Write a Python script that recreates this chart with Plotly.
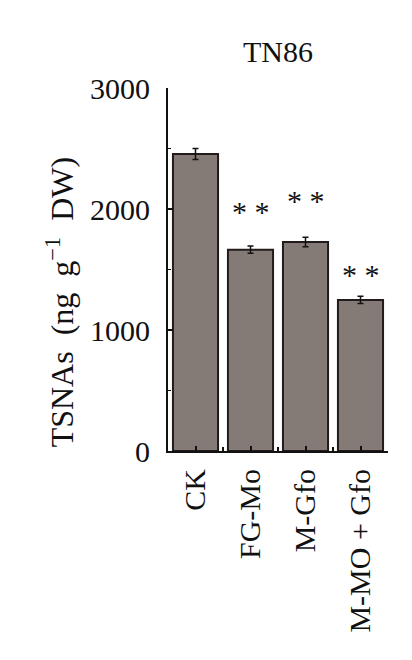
import plotly.graph_objects as go

categories = ["CK", "FG-Mo", "M-Gfo", "M-MO + Gfo"]
values = [2455, 1664, 1727, 1248]
errors = [45, 30, 40, 30]
sig_labels = ["", "* *", "* *", "* *"]
sig_y = [0, 1983, 2074, 1455]
y_ticks = [0, 1000, 2000, 3000]

FONT = "Liberation Serif, Times New Roman, serif"
xpos = list(range(len(categories)))

fig = go.Figure()
fig.add_trace(go.Bar(
    x=xpos, y=values,
    marker=dict(color="#857b76", line=dict(color="#231b1b", width=2)),
    error_y=dict(type="data", array=errors, color="#111111", thickness=1.5, width=3),
    width=0.82,
))

for xi, lab, yv in zip(xpos, sig_labels, sig_y):
    if lab:
        fig.add_annotation(x=xi, y=yv, text=lab, showarrow=False,
                           font=dict(family=FONT, size=30, color="#111111"),
                           xanchor="center", yanchor="middle")

fig.add_annotation(xref="paper", yref="paper", x=0.5, y=1, yshift=37,
                   text="TN86", showarrow=False,
                   font=dict(family=FONT, size=30, color="#111111"),
                   xanchor="center", yanchor="middle")

fig.add_annotation(xref="paper", yref="paper", x=-0.49, y=0.41,
                   text="TSNAs\u2002(ng\u2002g<sup>−1</sup>\u2002DW)", textangle=-90,
                   showarrow=False,
                   font=dict(family=FONT, size=32, color="#111111"),
                   xanchor="center", yanchor="middle")

fig.update_layout(
    width=412, height=660,
    margin=dict(l=160, r=32, t=80, b=217, autoexpand=False),
    paper_bgcolor="white", plot_bgcolor="white",
    showlegend=False,
    font=dict(family=FONT, size=28, color="#111111"),
)
fig.update_xaxes(
    range=[-0.5, 3.5], tickmode="array", tickvals=xpos, ticktext=categories,
    tickangle=-90, ticks="inside", ticklen=5, tickwidth=1.5, tickcolor="#111111",
    showline=True, linecolor="#111111", linewidth=2, showgrid=False, zeroline=False,
    tickfont=dict(family=FONT, size=30, color="#111111"), ticklabelstandoff=4,
    automargin=False,
    minor=dict(tickmode="linear", tick0=-0.5, dtick=1, ticks="inside", ticklen=4,
               tickwidth=1.5, tickcolor="#111111", showgrid=False),
)
fig.update_yaxes(
    range=[0, 3000], tickmode="array", tickvals=y_ticks,
    ticks="inside", ticklen=5, tickwidth=1.5, tickcolor="#111111",
    showline=True, linecolor="#111111", linewidth=2, showgrid=False, zeroline=False,
    tickfont=dict(family=FONT, size=30, color="#111111"), ticklabelstandoff=10,
    automargin=False,
    minor=dict(tickmode="linear", tick0=0, dtick=500, ticks="inside", ticklen=3,
               tickwidth=1.2, tickcolor="#111111", showgrid=False),
)

fig.write_html("out.html")
